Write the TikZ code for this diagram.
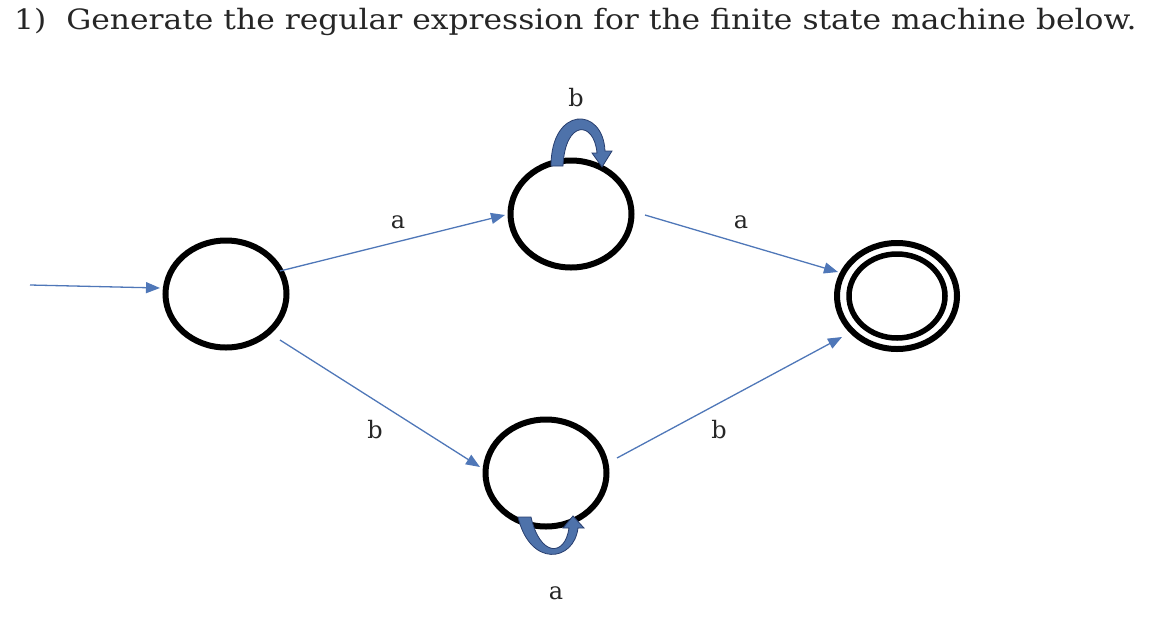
\documentclass[tikz,border=0pt]{standalone}
\usetikzlibrary{arrows.meta,shapes.geometric}
\usepackage{fontspec}
\usepackage{graphicx}
\setmainfont{DejaVu Serif}
\definecolor{edge}{RGB}{79,119,184}
\definecolor{loopfill}{RGB}{78,114,170}
\definecolor{loopdraw}{RGB}{40,62,110}
\begin{document}
\begin{tikzpicture}[x=1pt,y=-1pt,
  st/.style={draw=black,line width=6pt,ellipse,minimum width=121pt,minimum height=107pt,inner sep=0pt},
  tr/.style={draw=edge,line width=1.3pt,-{Triangle[length=14pt,width=11pt]}},
  lbl/.style={font=\fontsize{24}{28}\selectfont,text=black!85},
  loopa/.style={fill=loopfill,draw=loopdraw,line width=0.8pt}]
\useasboundingbox (0,0) rectangle (1162,622);
\node[anchor=west,inner sep=0pt,font=\fontsize{28}{32}\selectfont,text=black!85] (title) at (14,22) {\scalebox{1.12}[1]{1)\ \ Generate the regular expression for the finite state machine below.}};
\node[st] (q0) at (226,294) {};
\node[st] (q1) at (571,214) {};
\node[st] (q2) at (546,473) {};
\node[st,minimum width=120pt,minimum height=106pt] (q3) at (897,296) {};
\node[draw=black,line width=5.5pt,ellipse,minimum width=96pt,minimum height=84pt,inner sep=0pt] (q3i) at (897,296) {};
\coordinate (s) at (30,285);
\draw[tr] (s) -- (160,288);
\draw[tr] (280,271) -- (505,215);
\draw[tr] (645,215) -- (838,272);
\draw[tr] (280,340) -- (480,467);
\draw[tr] (617,458) -- (842,337);
\node[lbl] (la1) at (398,222) {a};
\node[lbl] (la2) at (741,222) {a};
\node[lbl] (lb1) at (375,430) {b};
\node[lbl] (lb2) at (719,430) {b};
\node[lbl] (lb3) at (576,98) {b};
\node[lbl] (la3) at (556,593) {a};
\path[loopa] (551,166) .. controls (551,106) and (603,106) .. (605,151) -- (612,151) -- (602,167) -- (592,153) -- (597,153) .. controls (594,120) and (565,120) .. (563,166) -- cycle;
\path[loopa] (518,517) .. controls (530,568) and (574,562) .. (578,528) -- (584,528) -- (573,516) -- (563,528) -- (569,528) .. controls (565,557) and (540,557) .. (531,517) -- cycle;
\end{tikzpicture}
\end{document}
